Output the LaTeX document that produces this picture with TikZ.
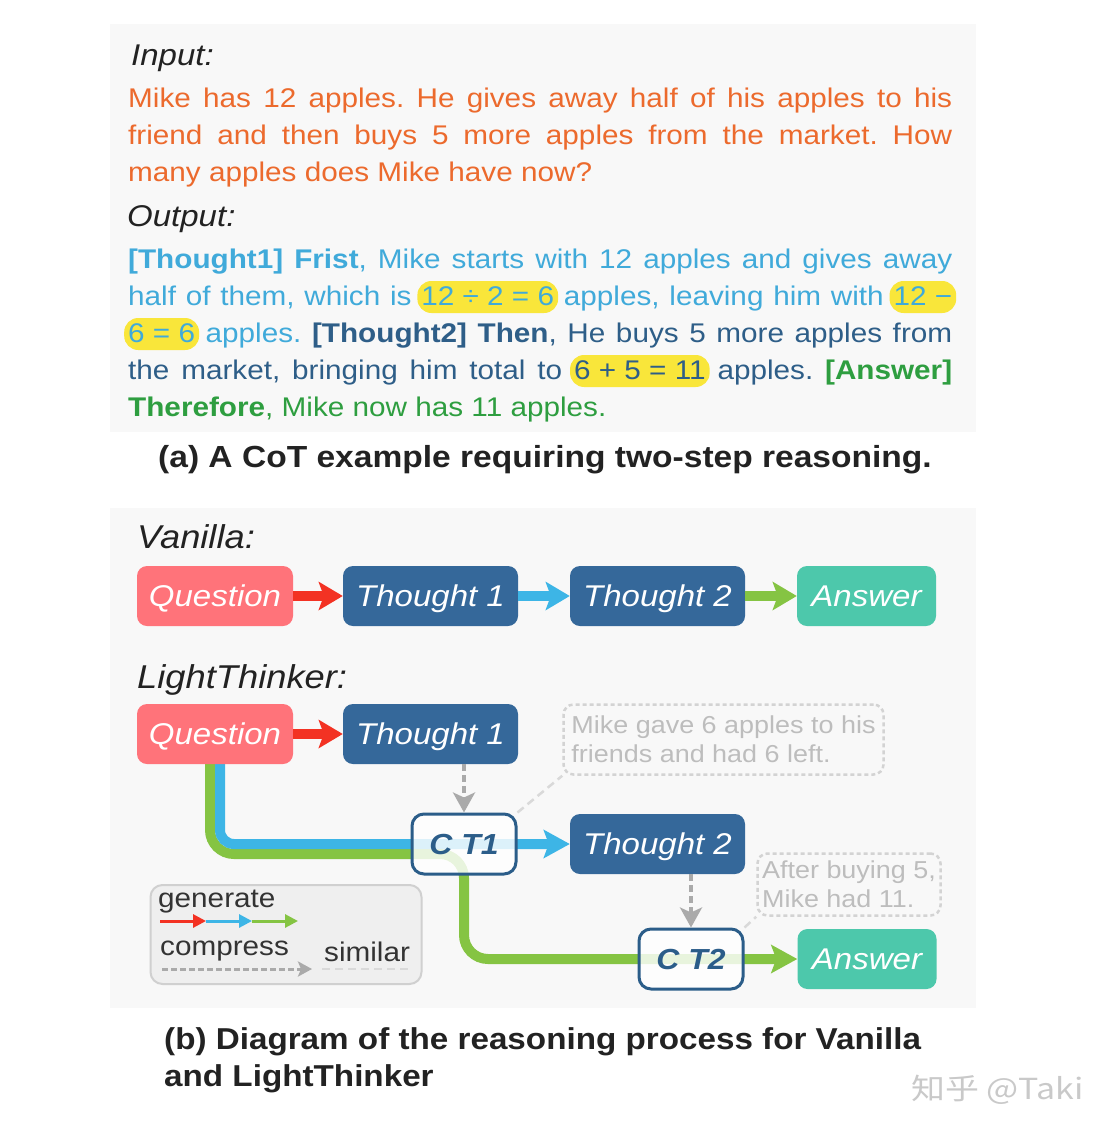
\documentclass[tikz,border=0pt]{standalone}
\usepackage{fontspec}
\setmainfont{Liberation Sans}[FakeStretch=1.1]
\newfontfamily\wmfont{Noto Sans CJK SC}[FakeStretch=1.17]
\usetikzlibrary{arrows.meta}
\pgfdeclarelayer{bglayer}
\pgfdeclarelayer{linelayer}
\pgfsetlayers{bglayer,linelayer,main}
\frenchspacing
\definecolor{panelbg}{HTML}{F8F8F8}
\definecolor{inorange}{HTML}{EC6A2D}
\definecolor{tblue}{HTML}{40AADA}
\definecolor{tdark}{HTML}{2E5E88}
\definecolor{agreen}{HTML}{2E9E40}
\definecolor{hlyellow}{HTML}{F9E63A}
\definecolor{labeltxt}{HTML}{222222}
\definecolor{captxt}{HTML}{222222}
\definecolor{qred}{HTML}{FF737A}
\definecolor{tnode}{HTML}{35689A}
\definecolor{anode}{HTML}{4DC8AB}
\definecolor{ared}{HTML}{F33223}
\definecolor{ablue}{HTML}{3DB5E6}
\definecolor{agreen2}{HTML}{85C443}
\definecolor{ctborder}{HTML}{2B5D89}
\definecolor{grayarrow}{HTML}{AAAAAA}
\definecolor{simgray}{HTML}{D9D9D9}
\definecolor{notegray}{HTML}{D3D3D3}
\definecolor{notetxt}{HTML}{BDBDBD}
\definecolor{legfill}{HTML}{EFEFEF}
\definecolor{legdraw}{HTML}{D0D0D0}
\definecolor{legtxt}{HTML}{333333}
\definecolor{wmgray}{HTML}{C9C9C9}
\newcommand\hlmark[2]{\hspace{-4pt}\tikz[baseline=(hlb.base)]\node[fill=hlyellow,rounded corners=14pt,inner xsep=4pt,inner ysep=4.5pt,text height=19.5pt,text depth=3.5pt,text=#1](hlb){#2};\hspace{-4pt}}
\begin{document}
\begin{tikzpicture}[x=1pt,y=-1pt,
  body/.style={anchor=base west, inner sep=0pt, font=\fontsize{27}{37}\selectfont},
  lbl/.style={anchor=base west, inner sep=0pt, font=\fontsize{30}{30}\selectfont\itshape, text=labeltxt},
  sect/.style={anchor=base west, inner sep=0pt, font=\fontsize{33}{33}\selectfont\itshape, text=labeltxt},
  captionstyle/.style={inner sep=0pt, font=\fontsize{30.5}{30.5}\selectfont\bfseries, text=captxt},
  box/.style={rounded corners=10pt, minimum height=60pt, inner sep=0pt, text height=21.5pt, text depth=0pt, text=white, font=\fontsize{30}{30}\selectfont\itshape},
  qbox/.style={box, fill=qred, minimum width=156pt},
  tbox/.style={box, fill=tnode, minimum width=175pt},
  abox/.style={box, fill=anode, minimum width=139pt},
  cbox/.style={rounded corners=12pt, draw=ctborder, line width=3pt, fill=white, fill opacity=0.82, text opacity=1, minimum width=104pt, minimum height=60pt, inner sep=0pt, text height=21pt, text depth=0pt, text=ctborder, font=\fontsize{29}{29}\selectfont\bfseries\itshape},
  bigarrow/.style={line width=10pt, -{Stealth[length=24pt,width=28pt,inset=5pt]}},
  thickline/.style={line width=10pt, rounded corners=16pt, -{Stealth[length=26pt,width=28pt,inset=5pt]}},
  compress/.style={draw=grayarrow, line width=3.5pt, dash pattern=on 7pt off 4pt, -{Stealth[length=20pt,width=22pt,inset=5pt]}},
  simline/.style={draw=simgray, line width=2.5pt, dash pattern=on 8pt off 5pt},
  notebox/.style={draw=notegray, line width=2.5pt, dash pattern=on 4pt off 3pt, rounded corners=10pt, text=notetxt, font=\fontsize{24.5}{29}\selectfont, align=left, inner sep=0pt},
  legarrow/.style={line width=3pt, -{Triangle[length=13pt,width=13pt]}},
  legtext/.style={anchor=base west, inner sep=0pt, font=\fontsize{27}{27}\selectfont, text=legtxt}
]
\useasboundingbox (0,0) rectangle (1116,1136);
\begin{pgfonlayer}{bglayer}
  \fill[panelbg] (110,24) rectangle (976,432);
  \fill[panelbg] (110,508) rectangle (976,1008);
\end{pgfonlayer}

% ---------- panel (a) ----------
\node[lbl] (inlbl) at (131,65) {Input:};
\node[body, text=inorange] (in1) at (128,107) {\makebox[824pt][s]{Mike has 12 apples. He gives away half of his apples to his}};
\node[body, text=inorange] (in2) at (128,144) {\makebox[824pt][s]{friend and then buys 5 more apples from the market. How}};
\node[body, text=inorange] (in3) at (128,181) {many apples does Mike have now?};
\node[lbl] (outlbl) at (127,226) {Output:};
\node[body, text=tblue] (o1) at (128,268) {\makebox[824pt][s]{\textbf{[Thought1] Frist}, Mike starts with 12 apples and gives away}};
\node[body, text=tblue] (o2) at (128,305) {\makebox[824pt][s]{half of them, which is \hlmark{tblue}{12 ÷ 2 = 6} apples, leaving him with \hlmark{tblue}{12 −}}};
\node[body, text=tblue] (o3) at (128,342) {\makebox[824pt][s]{\hlmark{tblue}{6 = 6} apples. {\color{tdark}\textbf{[Thought2] Then}, He buys 5 more apples from}}};
\node[body, text=tdark] (o4) at (128,379) {\makebox[824pt][s]{the market, bringing him total to \hlmark{tdark}{6 + 5 = 11} apples. {\color{agreen}\textbf{[Answer]}}}};
\node[body, text=agreen] (o5) at (128,416) {\textbf{Therefore}, Mike now has 11 apples.};
\node[captionstyle, anchor=base] (capa) at (545,467) {(a) A CoT example requiring two-step reasoning.};

% ---------- panel (b) ----------
\node[sect] (van) at (137,548) {Vanilla:};
\node[qbox] (Q1) at (215,596) {Question};
\node[tbox] (T1a) at (430.5,596) {Thought 1};
\node[tbox] (T2a) at (657.5,596) {Thought 2};
\node[abox] (A1) at (866.5,596) {Answer};
\draw[bigarrow, color=ared] (Q1.east) -- (T1a.west);
\draw[bigarrow, color=ablue] (T1a.east) -- (T2a.west);
\draw[bigarrow, color=agreen2] (T2a.east) -- (A1.west);

\node[sect] (lt) at (137,688) {LightThinker:};
\node[qbox] (Q2) at (215,734) {Question};
\node[tbox] (T1b) at (430.5,734) {Thought 1};
\node[tbox] (T2b) at (657.5,844) {Thought 2};
\node[abox] (A2) at (867,959) {Answer};
\node[notebox, minimum width=320pt, minimum height=70pt] (N1) at (723.5,739.5) {Mike gave 6 apples to his\\friends and had 6 left.};
\node[notebox, minimum width=183pt, minimum height=62pt] (N2) at (849,884.5) {After buying 5,\\Mike had 11.};
\draw[bigarrow, color=ared] (Q2.east) -- (T1b.west);

\node[cbox] (C1) at (464,844) {C T1};
\node[cbox] (C2) at (691,959) {C T2};
\coordinate (gturn) at ([yshift=-10pt]C1.center);

\begin{pgfonlayer}{linelayer}
  \draw[thickline, draw=agreen2, color=agreen2, rounded corners=24pt] ([xshift=-5pt]Q2.south) |- (gturn) |- (A2.west);
  \draw[thickline, draw=ablue, color=ablue, rounded corners=14pt] ([xshift=5pt]Q2.south) |- (T2b.west);
  \draw[simline] (C1.north east) -- (N1.south west);
  \draw[simline] (C2.north east) -- (N2.south west);
\end{pgfonlayer}
\draw[compress] (T1b.south -| C1.north) -- (C1.north);
\draw[compress] (T2b.south -| C2.north) -- (C2.north);

% legend
\node[draw=legdraw, fill=legfill, line width=2pt, rounded corners=12pt, minimum width=271pt, minimum height=99pt, inner sep=0pt] (leg) at (286,934.5) {};
\node[legtext] (lgen) at (158,907) {generate};
\coordinate (lg1) at (160,921);
\coordinate (lg2) at (206,921);
\coordinate (lg3) at (252,921);
\coordinate (lg4) at (298,921);
\draw[legarrow, color=ared] (lg1) -- (lg2);
\draw[legarrow, color=ablue] (lg2) -- (lg3);
\draw[legarrow, color=agreen2] (lg3) -- (lg4);
\node[legtext] (lcomp) at (160,955) {compress};
\coordinate (lc1) at (162,969);
\coordinate (lc2) at (312,969);
\draw[draw=grayarrow, line width=3pt, dash pattern=on 6pt off 3pt, -{Stealth[length=14pt,width=15pt,inset=3pt]}, color=grayarrow] (lc1) -- (lc2);
\node[legtext] (lsim) at (324,961) {similar};
\coordinate (ls1) at (322,969);
\coordinate (ls2) at (412,969);
\draw[simline] (ls1) -- (ls2);

\node[captionstyle, anchor=base west, font=\fontsize{30.2}{30.2}\selectfont\bfseries] (capb1) at (164,1049) {(b) Diagram of the reasoning process for Vanilla};
\node[captionstyle, anchor=base west, font=\fontsize{30.2}{30.2}\selectfont\bfseries] (capb2) at (164,1086) {and LightThinker};
\node[anchor=base west, inner sep=0pt, text=wmgray, font=\wmfont\fontsize{29}{29}\selectfont] (wm) at (911,1099) {知乎 @Taki};
\end{tikzpicture}
\end{document}
